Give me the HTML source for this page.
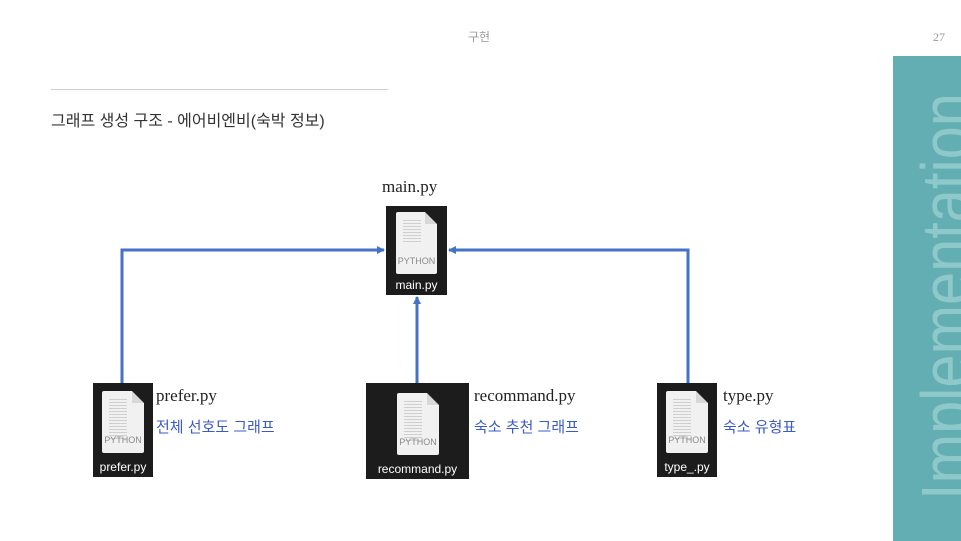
<!DOCTYPE html>
<html><head><meta charset="utf-8"><style>
body{margin:0;width:961px;height:541px;background:#fff;position:relative;overflow:hidden;font-family:"Liberation Serif","Noto Serif CJK SC",serif;}
.abs{position:absolute}
.kr{font-family:"Liberation Sans","Noto Sans CJK KR",sans-serif}
.ic{position:absolute;background:#1c1c1c}
.pg{position:absolute;background:#f1f1f1;border-radius:2px}
.pg:after{content:"";position:absolute;right:0;top:0;width:0;height:0;border-left:12px solid #d8d8d8;border-top:12px solid #1c1c1c}
.pg b{position:absolute;left:0;right:0;bottom:8px;text-align:center;font:9px "Liberation Sans",sans-serif;color:#8a8a8a;font-weight:normal}
.pg i{position:absolute;left:7px;top:8px;width:18px;height:22px;background:repeating-linear-gradient(#cfcfcf 0 1px,transparent 1px 3px)}
.lb{position:absolute;left:0;right:0;bottom:3px;text-align:center;color:#fff;font:12px "Liberation Sans",sans-serif}
.name{font-size:17px;color:#222}
.blue{color:#3a5bc7;font-size:15px}
</style></head><body>
<div class="abs kr" style="left:468px;top:28px;font-size:12px;color:#999">구현</div>
<div class="abs" style="left:933px;top:30px;font-size:12px;color:#999">27</div>
<div class="abs" style="left:51px;top:89px;width:337px;height:1px;background:#d0d0d0"></div>
<div class="abs kr" style="left:51px;top:107px;font-size:16px;color:#333">그래프 생성 구조 - 에어비엔비(숙박 정보)</div>

<div class="abs" style="left:893px;top:56px;width:68px;height:485px;background:#62aeb3;overflow:hidden">
 <div class="abs" style="left:0;top:0;transform:translate(18px,444px) rotate(-90deg) scaleX(0.85);transform-origin:0 0;font-family:'Liberation Sans',sans-serif;font-size:70px;color:#8fc8cb;white-space:nowrap;line-height:1">Implementation</div>
</div>

<svg class="abs" style="left:0;top:0" width="961" height="541">
<defs><marker id="a" markerWidth="8" markerHeight="8" refX="7" refY="4" orient="auto" markerUnits="userSpaceOnUse"><path d="M0,0 L8,4 L0,8z" fill="#4472c4"/></marker></defs>
<g stroke="#4472c4" stroke-width="3" fill="none">
<path d="M122,383 V250 H384" marker-end="url(#a)"/>
<path d="M688,383 V250 H449" marker-end="url(#a)"/>
<path d="M417,383 V297" marker-end="url(#a)"/>
</g></svg>

<div class="abs name" style="left:382px;top:177px">main.py</div>
<div class="ic" style="left:386px;top:206px;width:61px;height:89px"><div class="pg" style="left:10px;top:6px;width:41px;height:62px"><i></i><b>PYTHON</b></div><div class="lb">main.py</div></div>

<div class="ic" style="left:93px;top:383px;width:60px;height:94px"><div class="pg" style="left:9px;top:8px;width:42px;height:62px"><i style="height:40px"></i><b>PYTHON</b></div><div class="lb">prefer.py</div></div>
<div class="abs name" style="left:156px;top:386px">prefer.py</div>
<div class="abs kr blue" style="left:156px;top:416px">전체 선호도 그래프</div>

<div class="ic" style="left:366px;top:383px;width:103px;height:96px"><div class="pg" style="left:31px;top:10px;width:42px;height:62px"><i style="height:40px"></i><b>PYTHON</b></div><div class="lb">recommand.py</div></div>
<div class="abs name" style="left:474px;top:386px">recommand.py</div>
<div class="abs kr blue" style="left:474px;top:416px">숙소 추천 그래프</div>

<div class="ic" style="left:657px;top:383px;width:60px;height:94px"><div class="pg" style="left:9px;top:8px;width:42px;height:62px"><i style="height:40px"></i><b>PYTHON</b></div><div class="lb">type_.py</div></div>
<div class="abs name" style="left:723px;top:386px">type.py</div>
<div class="abs kr blue" style="left:723px;top:416px">숙소 유형표</div>
</body></html>
